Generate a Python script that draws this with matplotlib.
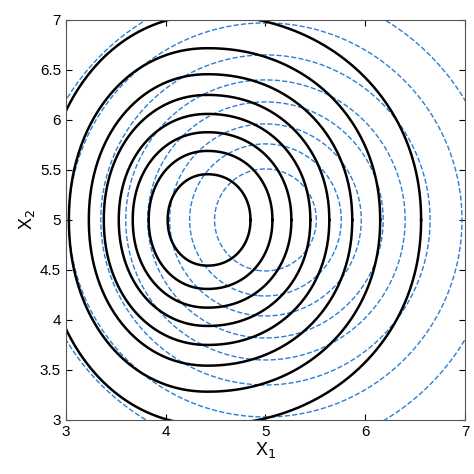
"""
Contours of two 2-D distributions (black solid vs blue dashed)
"""
import matplotlib.pyplot as plt
import numpy as np

plt.rcParams['font.family'] = ['Liberation Sans', 'DejaVu Sans']

# black family: egg-shaped rings around (4.42, 5), wider to the right
black_cx, black_cy = 4.42, 5.0
black_left = [0.40, 0.59, 0.75, 0.89, 1.04, 1.19, 1.39, 1.65]
black_right = [0.43, 0.65, 0.84, 1.03, 1.22, 1.45, 1.73, 2.14]
black_half_h = [0.457, 0.69, 0.877, 1.06, 1.25, 1.457, 1.717, 2.05]

# blue dashed family: near-circular around (5, 5)
blue_center = (5.0, 5.0)
blue_levels = [0.51, 0.76, 0.96, 1.18, 1.40, 1.65, 1.97, 2.33]

x_ticks = [3, 4, 5, 6, 7]
y_ticks = [3, 3.5, 4, 4.5, 5, 5.5, 6, 6.5, 7]

fig = plt.figure(figsize=(4.74, 4.74), dpi=100)
ax = fig.add_axes([0.139, 0.114, 0.842, 0.844])

xs = np.linspace(2.5, 7.5, 600)
ys = np.linspace(2.5, 7.5, 600)
X, Y = np.meshgrid(xs, ys)
R_blue = np.sqrt((X - blue_center[0]) ** 2 + (Y - blue_center[1]) ** 2)
ax.contour(X, Y, R_blue, levels=blue_levels, colors='#2a7fd4',
           linewidths=1.0, linestyles='--')

# a touch squarer than an ellipse
p = 2.08
t = np.linspace(0, 2 * np.pi, 400)
c, s = np.cos(t), np.sin(t)
cx = np.sign(c) * np.abs(c) ** (2 / p)
sy = np.sign(s) * np.abs(s) ** (2 / p)
for L, R, H in zip(black_left, black_right, black_half_h):
    hw = np.where(c < 0, L, R)
    ax.plot(black_cx + hw * cx, black_cy + H * sy, color='black', lw=1.8)

ax.set_xlim(3, 7)
ax.set_ylim(3, 7)
ax.set_xticks(x_ticks)
ax.set_yticks(y_ticks)
ax.set_yticklabels([f'{v:g}' for v in y_ticks])
ax.tick_params(direction='in', top=True, right=True, labelsize=11, length=4)
for sp in ax.spines.values():
    sp.set_color('#555555')
ax.set_xlabel('X$_1$', fontsize=13, labelpad=1)
ax.set_ylabel('X$_2$', fontsize=13, labelpad=2)

plt.savefig('out.png', dpi=100)
